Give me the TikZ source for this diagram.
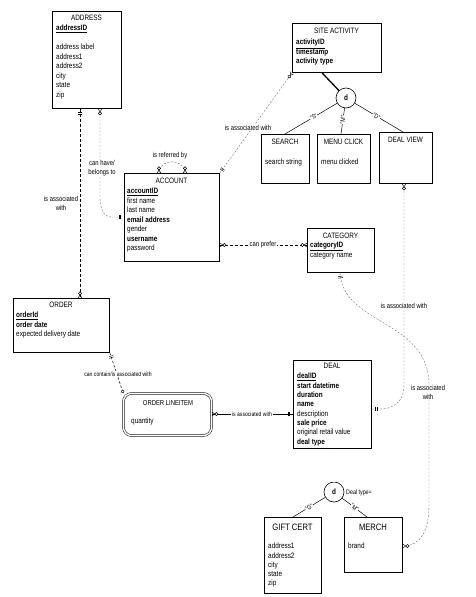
\documentclass[tikz,border=0pt]{standalone}
\usepackage{fontspec}
\setmainfont{Liberation Sans}[FakeStretch=0.82]
\usetikzlibrary{decorations.markings}
\tikzset{
  ent/.style={draw, line width=0.8pt, rectangle, anchor=north west, inner sep=0pt},
  ttl/.style={font=\fontsize{7.8}{9.5}\selectfont, inner sep=0pt},
  bigttl/.style={font=\fontsize{9.3}{11}\selectfont, inner sep=0pt},
  attr/.style={font=\fontsize{7.8}{9.5}\selectfont, inner sep=0pt, align=left, anchor=north west},
  lbl/.style={font=\fontsize{7.2}{9}\selectfont, fill=white, inner sep=0.6pt, align=center},
  slbl/.style={font=\fontsize{6.2}{7.5}\selectfont, fill=white, inner sep=0.6pt, align=center},
  sub/.style={font=\fontsize{6.5}{7}\selectfont, fill=white, inner sep=0.4pt, sloped},
  gdash/.style={draw=black!55, line width=0.4pt, dash pattern=on 2pt off 1.6pt},
  bdash/.style={draw=black, line width=0.75pt, dash pattern=on 3pt off 2pt},
  bdashthin/.style={draw=black, line width=0.5pt, dash pattern=on 2.5pt off 1.8pt},
  mk/.style={solid, draw=black, line width=0.45pt},
  oneS/.style={postaction={decorate,decoration={markings,mark=at position 3.5pt with {\draw[mk] (0,-2.3pt)--(0,2.3pt) (1.6pt,-2.3pt)--(1.6pt,2.3pt);}}}},
  oneE/.style={postaction={decorate,decoration={markings,mark=at position -3.5pt with {\draw[mk] (0,-2.3pt)--(0,2.3pt) (-1.6pt,-2.3pt)--(-1.6pt,2.3pt);}}}},
  manyS/.style={postaction={decorate,decoration={markings,mark=at position 0.01pt with {\draw[mk] (0,-2pt)--(3pt,0)--(0,2pt); \draw[mk,fill=white] (4.6pt,0) circle (1.6pt);}}}},
  manyE/.style={postaction={decorate,decoration={markings,mark=at position -0.01pt with {\draw[mk] (0,-2pt)--(-3pt,0)--(0,2pt); \draw[mk,fill=white] (-4.6pt,0) circle (1.6pt);}}}},
  zeroE/.style={postaction={decorate,decoration={markings,mark=at position -0.01pt with {\draw[mk,fill=white] (-1.8pt,0) circle (1.6pt);}}}},
}
\begin{document}
\begin{tikzpicture}[x=1pt,y=-1pt]
\fill[white] (0,0) rectangle (476,597);
\useasboundingbox (0,0) rectangle (476,597);

% ---------- entities ----------
\node[ent, minimum width=69, minimum height=97] (address) at (52,11) {};
\node[ttl] (addresst) at (86.5,18) {ADDRESS};
\node[attr] (addressa) at (56,25) {\underline{\textbf{addressID}}\\[9.5pt]address label\\address1\\address2\\city\\state\\zip};

\node[ent, minimum width=89, minimum height=49] (site) at (292,23) {};
\node[ttl] (sitet) at (336.5,31) {SITE ACTIVITY};
\node[attr] (sitea) at (296,39) {\underline{\textbf{activityID}}\\\textbf{timestamp}\\\textbf{activity type}};

\node[ent, minimum width=48, minimum height=49] (search) at (261,134) {};
\node[ttl] (searcht) at (285,142) {SEARCH};
\node[attr, anchor=west] (searcha) at (265,162) {search string};

\node[ent, minimum width=53, minimum height=49] (menu) at (317,134) {};
\node[ttl] (menut) at (343.5,142) {MENU CLICK};
\node[attr, anchor=west] (menua) at (321,162) {menu clicked};

\node[ent, minimum width=53, minimum height=51] (dealview) at (379,132) {};
\node[ttl] (dealviewt) at (405.5,140) {DEAL VIEW};

\node[ent, minimum width=95, minimum height=88] (account) at (124,173) {};
\node[ttl] (accountt) at (171.5,181) {ACCOUNT};
\node[attr] (accounta) at (127,188) {\underline{\textbf{accountID}}\\first name\\last name\\\textbf{email address}\\gender\\\textbf{username}\\password};

\node[ent, minimum width=67, minimum height=44] (category) at (307,228) {};
\node[ttl] (categoryt) at (340.5,236) {CATEGORY};
\node[attr] (categorya) at (310,242) {\underline{\textbf{categoryID}}\\category name};

\node[ent, minimum width=96, minimum height=54] (order) at (13,298) {};
\node[ttl] (ordert) at (61,305) {ORDER};
\node[attr] (ordera) at (16,312) {\underline{\textbf{orderId}}\\\textbf{order date}\\expected delivery date};

\node[draw, line width=0.5pt, double, double distance=1.4pt, rounded corners=8pt,
      minimum width=88, minimum height=42, inner sep=0pt] (lineitem) at (167.5,414.5) {};
\node[ttl, font=\fontsize{7.2}{9}\selectfont] (lineitemt) at (168,403) {ORDER LINEITEM};
\node[attr, anchor=west] (lineitema) at (131,421) {quantity};

\node[ent, minimum width=78, minimum height=88] (deal) at (293,360) {};
\node[ttl] (dealt) at (332,366) {DEAL};
\node[attr, font=\fontsize{7.8}{9.35}\selectfont] (deala) at (297,373) {\underline{\textbf{dealID}}\\\textbf{start datetime}\\\textbf{duration}\\\textbf{name}\\description\\\textbf{sale price}\\original retail value\\\textbf{deal type}};

\node[ent, minimum width=57, minimum height=76] (giftcert) at (264,517) {};
\node[bigttl] (giftcertt) at (292.5,527) {GIFT CERT};
\node[attr, font=\fontsize{7.8}{9.25}\selectfont] (giftcerta) at (268,543) {address1\\address2\\city\\state\\zip};

\node[ent, minimum width=58, minimum height=55] (merch) at (344,517) {};
\node[bigttl] (mercht) at (373,527) {MERCH};
\node[attr, anchor=west] (mercha) at (348,546) {brand};

% ---------- disjoint circles ----------
\node[draw, circle, line width=0.6pt, minimum size=20, inner sep=0pt, font=\fontsize{7.8}{9}\selectfont\bfseries] (d1) at (346,98) {d};
\node[draw, circle, line width=0.6pt, minimum size=20, inner sep=0pt, font=\fontsize{7.8}{9}\selectfont\bfseries] (d2) at (334,492) {d};

% ---------- connectors ----------
\draw[bdash, oneS, manyE] (80,0 |- address.south) -- (80,0 |- order.north);
\node[lbl, fill=none] (l1) at (61,203) {is associated\\with};

\draw[gdash, manyS, oneE] (100,0 |- address.south) -- (100,195)
   .. controls (100,211) and (104,217) .. (112,217) -- (account.west |- 0,217);
\node[lbl] (l2) at (102,168) {can have/\\belongs to};

\draw[gdash, manyS, manyE] (159,0 |- account.north) .. controls (159,158) and (185,158) .. (185,0 |- account.north);
\node[lbl] (l3) at (170,156) {is referred by};

\draw[gdash, oneS, manyE] (account.north east) -- (site.south west);
\node[lbl] (l4) at (248,128) {is associated with};

\draw[line width=1.3pt] (322,0 |- site.south) -- (d1);
\draw[line width=0.5pt] (d1) -- (285,0 |- search.north) node[sub, pos=0.45] {"S"};
\draw[line width=0.5pt] (d1) -- (341,0 |- menu.north) node[sub, pos=0.45] {"M"};
\draw[line width=0.5pt] (d1) -- (403,0 |- dealview.north) node[sub, pos=0.45] {"D"};

\draw[bdash, manyS, manyE] (account.east |- 0,245) -- (category.west |- 0,245);
\node[lbl] (l5) at (263,245) {can prefer};

\draw[gdash, manyS, oneE] (404,0 |- dealview.south) -- (404,385)
   .. controls (404,403) and (392,409) .. (380,409) -- (deal.east |- 0,409);
\node[lbl] (l6) at (404,306) {is associated with};

\draw[gdash, oneS, manyE] (340,0 |- category.south) .. controls (343,325) and (429,320) .. (429,385)
   -- (429,505) .. controls (429,532) and (420,546) .. (merch.east |- 0,546);
\node[lbl] (l7) at (428,392) {is associated\\with};

\draw[bdashthin, oneS, zeroE] (order.south east) -- (lineitem.north west);
\node[slbl] (l8) at (118,374) {can contain/is associated with};

\draw[line width=0.6pt, manyS, oneE] (lineitem.east |- 0,414) -- (deal.west |- 0,414);
\node[slbl] (l9) at (252,414) {is associated with};

\draw[line width=0.5pt, double, double distance=1.5pt] (334,0 |- deal.south) -- (d2);
\draw[line width=0.5pt] (d2) -- (293,0 |- giftcert.north) node[sub, pos=0.5] {"G"};
\draw[line width=0.5pt] (d2) -- (367,0 |- merch.north) node[sub, pos=0.5] {"M"};
\node[font=\fontsize{6.5}{8}\selectfont, anchor=west, inner sep=0pt] (dtype) at (346,493) {Deal type=};
\end{tikzpicture}
\end{document}
